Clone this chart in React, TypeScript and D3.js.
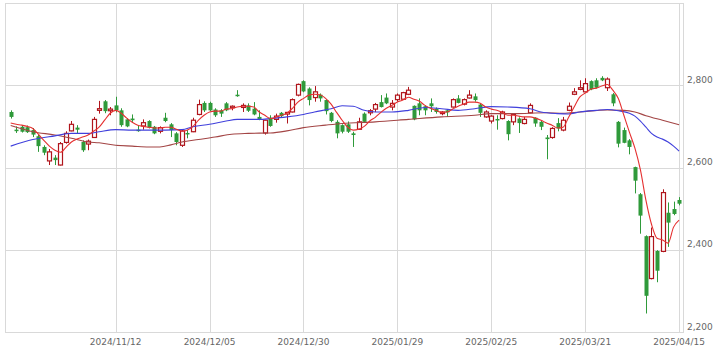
import * as d3 from "d3";
import { useEffect, useRef } from "react";

const WIDTH = 727;
const HEIGHT = 352;
const PLOT = { left: 5, top: 3, right: 683, bottom: 332 };

// Daily OHLC, 2024/10/15 .. 2025/04/15 (122 trading days)
const OPEN = [
  2735, 2692, 2699, 2698, 2691, 2676, 2650, 2616, 2624, 2606,
  2661, 2689, 2697, 2662, 2657, 2673, 2739, 2761, 2738, 2751,
  2739, 2717, 2719, 2692, 2701, 2713, 2699, 2688, 2721, 2705,
  2683, 2654, 2684, 2687, 2729, 2757, 2757, 2741, 2739, 2756,
  2746, 2777, 2746, 2751, 2743, 2723, 2684, 2721, 2717, 2733,
  2730, 2735, 2776, 2810, 2792, 2770, 2777, 2764, 2733, 2711,
  2703, 2705, 2683, 2693, 2731, 2733, 2742, 2759, 2770, 2747,
  2765, 2766, 2778, 2750, 2756, 2749, 2756, 2743, 2731, 2739,
  2747, 2768, 2754, 2769, 2773, 2753, 2723, 2713, 2718, 2719,
  2713, 2711, 2719, 2707, 2733, 2721, 2711, 2673, 2673, 2708,
  2691, 2739, 2778, 2790, 2784, 2810, 2812, 2818, 2794, 2778,
  2711, 2691, 2666, 2601, 2535, 2433, 2330, 2397, 2396, 2490,
  2499, 2521,
];
const HIGH = [
  2739, 2700, 2703, 2702, 2696, 2679, 2654, 2645, 2630, 2662,
  2688, 2713, 2703, 2666, 2668, 2723, 2762, 2764, 2747, 2772,
  2744, 2720, 2729, 2703, 2717, 2715, 2701, 2700, 2733, 2708,
  2686, 2691, 2691, 2721, 2765, 2761, 2760, 2744, 2742, 2759,
  2751, 2788, 2756, 2756, 2759, 2739, 2716, 2727, 2731, 2735,
  2735, 2768, 2804, 2812, 2795, 2798, 2780, 2766, 2735, 2715,
  2705, 2712, 2687, 2721, 2734, 2742, 2757, 2776, 2780, 2764,
  2780, 2784, 2796, 2751, 2768, 2751, 2768, 2746, 2737, 2742,
  2768, 2776, 2768, 2788, 2780, 2756, 2739, 2727, 2727, 2738,
  2715, 2731, 2722, 2723, 2756, 2722, 2715, 2679, 2698, 2720,
  2723, 2758, 2793, 2812, 2817, 2812, 2817, 2822, 2819, 2781,
  2713, 2697, 2669, 2602, 2538, 2435, 2454, 2399, 2547, 2515,
  2517, 2528,
];
const LOW = [
  2719, 2684, 2685, 2684, 2674, 2638, 2630, 2606, 2606, 2605,
  2658, 2688, 2683, 2638, 2642, 2672, 2731, 2732, 2727, 2734,
  2699, 2698, 2711, 2687, 2692, 2695, 2681, 2683, 2710, 2674,
  2654, 2650, 2671, 2686, 2727, 2735, 2737, 2723, 2723, 2737,
  2739, 2772, 2735, 2735, 2727, 2715, 2680, 2699, 2709, 2722,
  2707, 2734, 2773, 2783, 2751, 2760, 2760, 2729, 2710, 2671,
  2683, 2684, 2650, 2692, 2710, 2727, 2735, 2746, 2754, 2739,
  2760, 2765, 2776, 2715, 2727, 2727, 2735, 2731, 2727, 2723,
  2746, 2756, 2751, 2768, 2760, 2723, 2721, 2707, 2692, 2717,
  2666, 2703, 2684, 2705, 2732, 2699, 2691, 2620, 2670, 2688,
  2688, 2737, 2776, 2788, 2783, 2788, 2792, 2810, 2786, 2749,
  2649, 2659, 2632, 2537, 2439, 2245, 2328, 2321, 2394, 2407,
  2484, 2508,
];
const CLOSE = [
  2723, 2689, 2687, 2686, 2680, 2652, 2636, 2638, 2618, 2658,
  2683, 2705, 2692, 2642, 2664, 2717, 2743, 2737, 2742, 2739,
  2703, 2700, 2715, 2689, 2709, 2697, 2683, 2697, 2713, 2691,
  2662, 2689, 2681, 2715, 2753, 2739, 2739, 2727, 2731, 2739,
  2749, 2774, 2751, 2738, 2729, 2717, 2715, 2701, 2725, 2725,
  2734, 2765, 2802, 2785, 2764, 2784, 2768, 2737, 2713, 2683,
  2687, 2687, 2679, 2711, 2711, 2738, 2753, 2747, 2756, 2756,
  2776, 2782, 2788, 2717, 2739, 2739, 2749, 2735, 2735, 2734,
  2765, 2757, 2765, 2776, 2764, 2733, 2735, 2725, 2716, 2735,
  2681, 2729, 2708, 2717, 2751, 2707, 2699, 2669, 2695, 2695,
  2715, 2749, 2784, 2794, 2804, 2790, 2794, 2812, 2815, 2756,
  2658, 2660, 2650, 2568, 2483, 2288, 2432, 2349, 2539, 2466,
  2487, 2512,
];

// Moving averages
const MA5 = [
  2708, 2705, 2703, 2700, 2695, 2681, 2666, 2652, 2642, 2637,
  2649, 2662, 2669, 2674, 2679, 2688, 2698, 2715, 2732, 2739,
  2732, 2720, 2710, 2703, 2700, 2698, 2696, 2696, 2698, 2698,
  2693, 2688, 2691, 2700, 2715, 2727, 2735, 2737, 2737, 2742,
  2743, 2747, 2749, 2749, 2747, 2735, 2727, 2719, 2722, 2727,
  2732, 2744, 2759, 2768, 2776, 2778, 2777, 2768, 2754, 2734,
  2715, 2698, 2691, 2693, 2700, 2713, 2722, 2734, 2744, 2751,
  2759, 2764, 2771, 2766, 2761, 2751, 2744, 2739, 2734, 2735,
  2742, 2749, 2754, 2759, 2759, 2756, 2747, 2742, 2739, 2734,
  2727, 2727, 2725, 2723, 2723, 2720, 2715, 2708, 2703, 2696,
  2698, 2722, 2747, 2771, 2781, 2790, 2793, 2798, 2802, 2788,
  2768, 2727, 2686, 2647, 2594, 2520, 2462, 2428, 2424, 2416,
  2455, 2472,
];
const MA25: [number, number][] = [
  [0, 2652], [4, 2668], [8, 2677], [11, 2683], [14, 2683], [16, 2687],
  [19, 2692], [22, 2691], [25, 2691], [28, 2691], [31, 2692], [33, 2699],
  [36, 2705], [39, 2713], [41, 2717], [43, 2717], [45, 2717], [47, 2719],
  [50, 2723], [53, 2729], [55, 2735], [58, 2743], [60, 2750], [62, 2749],
  [64, 2739], [66, 2735], [69, 2735], [72, 2739], [75, 2746], [78, 2743],
  [81, 2739], [84, 2743], [87, 2748], [90, 2747], [94, 2743], [96, 2735],
  [99, 2731], [101, 2730], [103, 2735], [106, 2739], [108, 2741], [110, 2738],
  [112, 2732], [113, 2725], [114, 2713], [115, 2698], [116, 2683], [117, 2674],
  [118, 2669], [119, 2662], [120, 2652], [121, 2640],
];
const MA75: [number, number][] = [
  [0, 2702], [4, 2687], [8, 2679], [11, 2671], [14, 2662], [16, 2660],
  [19, 2654], [22, 2652], [25, 2650], [27, 2650], [29, 2655], [31, 2662],
  [34, 2668], [37, 2674], [40, 2681], [43, 2683], [47, 2684], [50, 2689],
  [53, 2697], [57, 2703], [60, 2707], [66, 2711], [72, 2717], [78, 2723],
  [84, 2727], [87, 2731], [91, 2731], [97, 2733], [100, 2732], [103, 2735],
  [108, 2740], [111, 2739], [113, 2735], [115, 2726], [118, 2715], [121, 2704],
];

const Y_TICKS = [2200, 2400, 2600, 2800];
const X_TICKS = [
  { i: 19, label: "2024/11/12" },
  { i: 36, label: "2024/12/05" },
  { i: 53, label: "2024/12/30" },
  { i: 70, label: "2025/01/29" },
  { i: 87, label: "2025/02/25" },
  { i: 104, label: "2025/03/21" },
  { i: 121, label: "2025/04/15" },
];

const UP = "#b0151c";
const DOWN = "#2f9a3a";
const GRID = "#d9d9d9";
const TEXT = "#666";

export default function App() {
  const ref = useRef<SVGSVGElement>(null);

  useEffect(() => {
    const svg = d3.select(ref.current);
    svg.selectAll("*").remove();

    const x = d3.scaleLinear().domain([0, OPEN.length - 1]).range([10.7, 679.1]);
    const y = d3.scaleLinear().domain([2200, 3000]).range([PLOT.bottom, PLOT.top]);

    // grid
    const grid = svg.append("g").attr("stroke", GRID).attr("stroke-width", 1);
    grid
      .selectAll("line.h")
      .data(Y_TICKS)
      .join("line")
      .attr("x1", PLOT.left)
      .attr("x2", PLOT.right)
      .attr("y1", (d) => Math.round(y(d)) + 0.5)
      .attr("y2", (d) => Math.round(y(d)) + 0.5);
    grid
      .selectAll("line.v")
      .data(X_TICKS)
      .join("line")
      .attr("x1", (d) => Math.round(x(d.i)) + 0.5)
      .attr("x2", (d) => Math.round(x(d.i)) + 0.5)
      .attr("y1", PLOT.top)
      .attr("y2", PLOT.bottom);
    svg
      .append("rect")
      .attr("x", PLOT.left + 0.5)
      .attr("y", PLOT.top + 0.5)
      .attr("width", PLOT.right - PLOT.left)
      .attr("height", PLOT.bottom - PLOT.top)
      .attr("fill", "none")
      .attr("stroke", GRID);

    // candles: hollow red up days, filled green down days
    const candles = svg
      .append("g")
      .selectAll("g")
      .data(OPEN.map((o, i) => ({ i, o, h: HIGH[i], l: LOW[i], c: CLOSE[i] })))
      .join("g");
    candles
      .append("line")
      .attr("x1", (d) => Math.round(x(d.i)) + 0.5)
      .attr("x2", (d) => Math.round(x(d.i)) + 0.5)
      .attr("y1", (d) => y(d.h))
      .attr("y2", (d) => y(d.l))
      .attr("stroke", (d) => (d.c >= d.o ? UP : DOWN))
      .attr("stroke-width", 1);
    candles
      .append("rect")
      .attr("x", (d) => Math.round(x(d.i)) - 1.5)
      .attr("width", 4)
      .attr("y", (d) => y(Math.max(d.o, d.c)))
      .attr("height", (d) => Math.max(1.5, Math.abs(y(d.o) - y(d.c))))
      .attr("fill", (d) => (d.c >= d.o ? "#fff" : DOWN))
      .attr("stroke", (d) => (d.c >= d.o ? UP : "none"))
      .attr("stroke-width", 1.2);

    // moving averages
    const sparse = d3
      .line<[number, number]>()
      .curve(d3.curveMonotoneX)
      .x((d) => x(d[0]))
      .y((d) => y(d[1]));
    svg
      .append("path")
      .attr("d", sparse(MA75) ?? "")
      .attr("fill", "none")
      .attr("stroke", "#a34545")
      .attr("stroke-width", 1.1);
    svg
      .append("path")
      .attr("d", sparse(MA25) ?? "")
      .attr("fill", "none")
      .attr("stroke", "#4040dc")
      .attr("stroke-width", 1.1);
    const daily = d3
      .line<number>()
      .curve(d3.curveMonotoneX)
      .x((_, i) => x(i))
      .y((d) => y(d));
    svg
      .append("path")
      .attr("d", daily(MA5) ?? "")
      .attr("fill", "none")
      .attr("stroke", "#e53030")
      .attr("stroke-width", 1.1);

    // axis labels
    const labels = svg
      .append("g")
      .attr("font-family", "'DejaVu Sans', Verdana, sans-serif")
      .attr("font-size", 9)
      .attr("fill", TEXT);
    labels
      .selectAll("text.y")
      .data(Y_TICKS)
      .join("text")
      .attr("x", PLOT.right + 4)
      .attr("y", (d) => y(d) - 2.5)
      .text((d) => d3.format(",")(d));
    labels
      .selectAll("text.x")
      .data(X_TICKS)
      .join("text")
      .attr("x", (d) => x(d.i))
      .attr("y", 345)
      .attr("text-anchor", "middle")
      .text((d) => d.label);
  }, []);

  return (
    <div style={{ position: "absolute", left: 0, top: 0, background: "#fff" }}>
      <svg ref={ref} width={WIDTH} height={HEIGHT} style={{ display: "block" }} />
    </div>
  );
}
